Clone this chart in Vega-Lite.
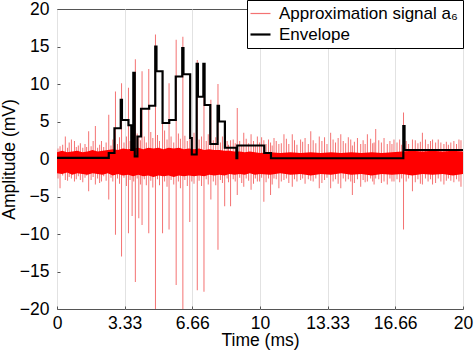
{
  "$schema": "https://vega.github.io/schema/vega-lite/v6.json",
  "width": 406,
  "height": 300,
  "autosize": "none",
  "padding": {"left": 57, "top": 9, "right": 11, "bottom": 42},
  "config": {
    "font": "Liberation Sans",
    "view": {"stroke": "#555", "strokeWidth": 1},
    "axis": {"labelFontSize": 17.5, "titleFontSize": 17.5, "titleFontWeight": "normal", "labelColor": "#000", "titleColor": "#000", "domain": false, "tickColor": "#555", "labelFont": "Liberation Sans", "titleFont": "Liberation Sans", "labelOverlap": false}
  },
  "datasets": {
    "band": [
      {"t":0,"lo":-1.9,"hi":0.9},{"t":0.25,"lo":-2.0,"hi":1.1},{"t":0.5,"lo":-1.8,"hi":0.9},{"t":0.75,"lo":-2.1,"hi":1.0},{"t":1.0,"lo":-1.9,"hi":1.1},{"t":1.25,"lo":-2.0,"hi":0.9},{"t":1.5,"lo":-2.1,"hi":1.0},{"t":1.75,"lo":-1.9,"hi":1.2},{"t":2.0,"lo":-2.0,"hi":1.0},{"t":2.25,"lo":-2.1,"hi":1.1},{"t":2.5,"lo":-1.9,"hi":1.2},{"t":2.75,"lo":-2.2,"hi":1.3},{"t":3.0,"lo":-2.0,"hi":1.2},{"t":3.25,"lo":-2.2,"hi":1.4},{"t":3.5,"lo":-2.1,"hi":1.3},{"t":3.75,"lo":-2.3,"hi":1.4},{"t":4.0,"lo":-2.1,"hi":1.5},{"t":4.25,"lo":-2.3,"hi":1.3},{"t":4.5,"lo":-2.2,"hi":1.5},{"t":4.75,"lo":-2.4,"hi":1.4},{"t":5.0,"lo":-2.2,"hi":1.5},{"t":5.25,"lo":-2.3,"hi":1.3},{"t":5.5,"lo":-2.2,"hi":1.5},{"t":5.75,"lo":-2.4,"hi":1.4},{"t":6.0,"lo":-2.2,"hi":1.5},{"t":6.25,"lo":-2.3,"hi":1.3},{"t":6.5,"lo":-2.2,"hi":1.4},{"t":6.75,"lo":-2.3,"hi":1.3},{"t":7.0,"lo":-2.2,"hi":1.4},{"t":7.25,"lo":-2.3,"hi":1.2},{"t":7.5,"lo":-2.1,"hi":1.3},{"t":7.75,"lo":-2.2,"hi":1.2},{"t":8.0,"lo":-2.1,"hi":1.2},{"t":8.25,"lo":-2.2,"hi":1.1},{"t":8.5,"lo":-2.0,"hi":1.1},{"t":8.75,"lo":-2.1,"hi":1.0},{"t":9.0,"lo":-2.0,"hi":1.0},{"t":9.25,"lo":-2.1,"hi":0.9},{"t":9.5,"lo":-1.9,"hi":1.0},{"t":9.75,"lo":-2.1,"hi":0.9},{"t":10.0,"lo":-2.0,"hi":0.8},{"t":10.5,"lo":-2.1,"hi":0.9},{"t":11.0,"lo":-1.9,"hi":0.8},{"t":11.5,"lo":-2.1,"hi":0.9},{"t":12.0,"lo":-2.0,"hi":0.8},{"t":12.5,"lo":-2.2,"hi":0.9},{"t":13.0,"lo":-2.0,"hi":0.8},{"t":13.5,"lo":-2.1,"hi":0.9},{"t":14.0,"lo":-1.9,"hi":0.8},{"t":14.5,"lo":-2.1,"hi":0.9},{"t":15.0,"lo":-2.0,"hi":0.8},{"t":15.5,"lo":-2.2,"hi":0.9},{"t":16.0,"lo":-2.0,"hi":0.8},{"t":16.5,"lo":-2.1,"hi":0.9},{"t":17.0,"lo":-2.0,"hi":1.0},{"t":17.5,"lo":-2.2,"hi":1.1},{"t":18.0,"lo":-2.0,"hi":1.0},{"t":18.5,"lo":-2.1,"hi":1.1},{"t":19.0,"lo":-2.0,"hi":1.0},{"t":19.5,"lo":-2.2,"hi":1.1},{"t":20.0,"lo":-2.0,"hi":1.0}
    ],
    "spikes": [
      {"t":0.15,"lo":-3.9,"hi":1.7},{"t":0.41,"lo":-2.8,"hi":3.0},{"t":0.71,"lo":-2.6,"hi":2.6},{"t":0.86,"lo":-3.0,"hi":2.4},{"t":1.15,"lo":-2.8,"hi":2.1},{"t":1.56,"lo":-4.3,"hi":3.7},{"t":1.89,"lo":-3.4,"hi":4.4},{"t":2.19,"lo":-3.0,"hi":2.4},{"t":2.55,"lo":-5.4,"hi":5.9},{"t":2.88,"lo":-10.1,"hi":9.0},{"t":3.18,"lo":-13.0,"hi":10.1},{"t":3.52,"lo":-9.9,"hi":9.5},{"t":3.7,"lo":-7.6,"hi":2.5},{"t":3.86,"lo":-16.4,"hi":13.3},{"t":4.03,"lo":-7.9,"hi":3.0},{"t":4.19,"lo":-8.8,"hi":11.7},{"t":4.52,"lo":-9.9,"hi":12.0},{"t":4.85,"lo":-20,"hi":16.6},{"t":5.2,"lo":-9.9,"hi":11.7},{"t":5.52,"lo":-9.4,"hi":10.1},{"t":5.87,"lo":-16.8,"hi":15.9},{"t":6.2,"lo":-20,"hi":16.3},{"t":6.54,"lo":-8.4,"hi":6.6},{"t":6.91,"lo":-17.5,"hi":13.2},{"t":7.24,"lo":-17.7,"hi":12.6},{"t":7.58,"lo":-5.4,"hi":7.9},{"t":7.93,"lo":-12.1,"hi":10.0},{"t":8.26,"lo":-6.3,"hi":4.6},{"t":8.55,"lo":-6.3,"hi":2.5},{"t":8.88,"lo":-4.8,"hi":6.8},{"t":9.2,"lo":-3.7,"hi":3.5},{"t":9.56,"lo":-4.1,"hi":3.3},{"t":9.87,"lo":-3.0,"hi":3.0},{"t":10.19,"lo":-5.7,"hi":2.5},{"t":10.52,"lo":-4.8,"hi":2.2},{"t":10.69,"lo":-2.6,"hi":2.8},{"t":10.93,"lo":-3.9,"hi":2.0},{"t":11.18,"lo":-2.8,"hi":3.3},{"t":11.59,"lo":-3.7,"hi":3.3},{"t":12.0,"lo":-2.8,"hi":2.6},{"t":12.5,"lo":-2.9,"hi":3.7},{"t":12.92,"lo":-3.9,"hi":3.0},{"t":13.48,"lo":-3.9,"hi":3.5},{"t":13.98,"lo":-3.9,"hi":3.3},{"t":14.47,"lo":-3.0,"hi":2.6},{"t":14.55,"lo":-4.8,"hi":1.8},{"t":14.8,"lo":-2.7,"hi":2.8},{"t":14.96,"lo":-3.7,"hi":2.0},{"t":15.29,"lo":-3.0,"hi":3.3},{"t":15.62,"lo":-3.4,"hi":2.2},{"t":15.7,"lo":-2.6,"hi":4.0},{"t":16.11,"lo":-3.0,"hi":2.8},{"t":16.27,"lo":-3.4,"hi":2.0},{"t":16.6,"lo":-3.0,"hi":2.6},{"t":17.07,"lo":-9.4,"hi":6.2},{"t":17.51,"lo":-4.3,"hi":2.6},{"t":18.0,"lo":-3.4,"hi":3.5},{"t":18.5,"lo":-3.4,"hi":2.6},{"t":18.91,"lo":-3.0,"hi":2.2},{"t":19.06,"lo":-3.4,"hi":2.0},{"t":19.4,"lo":-2.9,"hi":2.2},{"t":19.9,"lo":-3.7,"hi":2.5},
      {"t":0.05,"lo":-2.6,"hi":1.4},{"t":0.28,"lo":-2.2,"hi":1.9},{"t":0.52,"lo":-2.9,"hi":1.5},{"t":0.6,"lo":-2.4,"hi":2.2},{"t":0.95,"lo":-2.7,"hi":1.6},{"t":1.05,"lo":-2.3,"hi":1.8},{"t":1.27,"lo":-3.1,"hi":1.5},{"t":1.38,"lo":-2.5,"hi":2.0},{"t":1.46,"lo":-2.2,"hi":1.6},{"t":1.68,"lo":-2.8,"hi":1.7},{"t":1.78,"lo":-2.4,"hi":2.4},{"t":2.0,"lo":-2.6,"hi":1.5},{"t":2.1,"lo":-3.2,"hi":1.9},{"t":2.3,"lo":-2.3,"hi":1.6},{"t":2.42,"lo":-2.9,"hi":2.2},{"t":2.66,"lo":-2.5,"hi":1.8},{"t":2.75,"lo":-3.0,"hi":2.6},{"t":2.98,"lo":-2.6,"hi":2.0},{"t":3.08,"lo":-3.3,"hi":2.9},{"t":3.3,"lo":-2.5,"hi":2.2},{"t":3.42,"lo":-3.6,"hi":3.0},{"t":3.6,"lo":-2.8,"hi":2.4},{"t":3.78,"lo":-3.0,"hi":2.0},{"t":3.95,"lo":-2.6,"hi":3.4},{"t":4.11,"lo":-3.4,"hi":2.5},{"t":4.3,"lo":-2.7,"hi":3.0},{"t":4.4,"lo":-3.5,"hi":2.2},{"t":4.62,"lo":-2.9,"hi":3.6},{"t":4.72,"lo":-3.8,"hi":2.8},{"t":4.95,"lo":-2.7,"hi":3.2},{"t":5.05,"lo":-3.5,"hi":2.4},{"t":5.3,"lo":-3.0,"hi":3.8},{"t":5.42,"lo":-3.7,"hi":2.6},{"t":5.62,"lo":-2.8,"hi":3.0},{"t":5.75,"lo":-3.4,"hi":2.2},{"t":5.98,"lo":-3.0,"hi":3.4},{"t":6.08,"lo":-3.9,"hi":2.7},{"t":6.3,"lo":-2.8,"hi":3.1},{"t":6.42,"lo":-3.6,"hi":2.4},{"t":6.64,"lo":-3.0,"hi":2.8},{"t":6.75,"lo":-3.3,"hi":3.5},{"t":7.0,"lo":-2.9,"hi":2.6},{"t":7.12,"lo":-3.6,"hi":3.0},{"t":7.35,"lo":-2.7,"hi":2.4},{"t":7.45,"lo":-3.4,"hi":3.3},{"t":7.7,"lo":-3.0,"hi":2.5},{"t":7.82,"lo":-3.5,"hi":2.9},{"t":8.05,"lo":-2.8,"hi":2.2},{"t":8.15,"lo":-3.2,"hi":3.0},{"t":8.38,"lo":-2.6,"hi":2.4},{"t":8.45,"lo":-3.1,"hi":1.9},{"t":8.68,"lo":-2.7,"hi":2.6},{"t":8.78,"lo":-3.0,"hi":2.1},{"t":9.0,"lo":-2.5,"hi":2.4},{"t":9.1,"lo":-3.2,"hi":1.9},{"t":9.32,"lo":-2.6,"hi":2.7},{"t":9.44,"lo":-2.9,"hi":2.1},{"t":9.68,"lo":-3.3,"hi":2.4},{"t":9.77,"lo":-2.6,"hi":1.8},{"t":9.98,"lo":-3.0,"hi":2.2},{"t":10.08,"lo":-2.5,"hi":2.9},{"t":10.3,"lo":-3.1,"hi":2.0},{"t":10.42,"lo":-2.6,"hi":2.6},{"t":10.6,"lo":-3.4,"hi":1.8},{"t":10.8,"lo":-2.7,"hi":2.4},{"t":11.05,"lo":-3.0,"hi":2.1},{"t":11.3,"lo":-2.6,"hi":2.7},{"t":11.42,"lo":-3.2,"hi":2.0},{"t":11.7,"lo":-2.7,"hi":2.5},{"t":11.82,"lo":-3.0,"hi":1.9},{"t":12.1,"lo":-2.6,"hi":2.3},{"t":12.22,"lo":-3.3,"hi":2.8},{"t":12.38,"lo":-2.7,"hi":2.0},{"t":12.62,"lo":-3.0,"hi":2.5},{"t":12.75,"lo":-2.6,"hi":2.1},{"t":13.05,"lo":-3.2,"hi":2.4},{"t":13.18,"lo":-2.8,"hi":2.9},{"t":13.3,"lo":-2.5,"hi":2.0},{"t":13.6,"lo":-3.0,"hi":2.6},{"t":13.72,"lo":-2.7,"hi":2.2},{"t":13.85,"lo":-3.3,"hi":2.8},{"t":14.1,"lo":-2.6,"hi":2.4},{"t":14.22,"lo":-3.0,"hi":2.1},{"t":14.35,"lo":-2.7,"hi":2.9},{"t":14.65,"lo":-3.2,"hi":2.3},{"t":15.08,"lo":-2.8,"hi":2.5},{"t":15.18,"lo":-3.1,"hi":2.0},{"t":15.45,"lo":-2.6,"hi":2.7},{"t":15.55,"lo":-3.0,"hi":2.1},{"t":15.85,"lo":-2.7,"hi":2.5},{"t":15.98,"lo":-3.2,"hi":2.2},{"t":16.4,"lo":-2.6,"hi":2.4},{"t":16.5,"lo":-3.0,"hi":2.0},{"t":16.75,"lo":-2.7,"hi":2.2},{"t":16.88,"lo":-3.1,"hi":2.6},{"t":16.98,"lo":-2.6,"hi":1.9},{"t":17.2,"lo":-3.0,"hi":2.4},{"t":17.32,"lo":-2.6,"hi":2.0},{"t":17.65,"lo":-3.1,"hi":2.5},{"t":17.78,"lo":-2.7,"hi":2.1},{"t":17.9,"lo":-3.3,"hi":2.3},{"t":18.15,"lo":-2.6,"hi":2.6},{"t":18.28,"lo":-3.0,"hi":2.0},{"t":18.4,"lo":-2.7,"hi":2.4},{"t":18.65,"lo":-3.2,"hi":2.2},{"t":18.78,"lo":-2.6,"hi":2.6},{"t":19.18,"lo":-2.9,"hi":2.3},{"t":19.28,"lo":-2.6,"hi":1.9},{"t":19.55,"lo":-3.1,"hi":2.4},{"t":19.68,"lo":-2.7,"hi":2.0},{"t":19.8,"lo":-3.0,"hi":2.6}
    ],
    "envelope": [
      {"t":0,"v":0.15},{"t":2.55,"v":0.8},{"t":2.83,"v":4.1},{"t":3.14,"v":7.9},{"t":3.2,"v":5.2},{"t":3.52,"v":4.5},{"t":3.66,"v":1.2},{"t":3.76,"v":11.5},{"t":3.83,"v":0.35},{"t":3.96,"v":3.0},{"t":4.14,"v":6.7},{"t":4.54,"v":7.1},{"t":4.84,"v":15.0},{"t":4.9,"v":11.7},{"t":5.2,"v":4.8},{"t":5.53,"v":5.2},{"t":5.85,"v":11.0},{"t":6.17,"v":14.8},{"t":6.23,"v":11.3},{"t":6.56,"v":2.8},{"t":6.64,"v":0.6},{"t":6.88,"v":12.7},{"t":6.94,"v":8.3},{"t":7.21,"v":12.7},{"t":7.27,"v":7.2},{"t":7.55,"v":2.0},{"t":7.91,"v":7.1},{"t":7.98,"v":5.0},{"t":8.27,"v":1.5},{"t":8.84,"v":0.1},{"t":8.88,"v":1.8},{"t":10.21,"v":0.8},{"t":10.54,"v":0.1},{"t":17.06,"v":4.4},{"t":17.12,"v":1.2},{"t":20,"v":1.2}
    ]
  },
  "layer": [
    {
      "data": {"name": "spikes"},
      "mark": {"type": "rule", "strokeWidth": 1, "color": "#f47272", "clip": true},
      "encoding": {
        "x": {"field": "t", "type": "quantitative", "scale": {"domain": [0, 20], "nice": false},
          "axis": {"title": "Time (ms)", "values": [0, 3.33, 6.66, 10, 13.33, 16.66, 20], "labelExpr": "format(datum.value, '.2~f')", "labelFlush": false, "labelOverlap": false, "grid": true, "gridColor": "#e2e2e2", "tickSize": -3, "labelPadding": 8, "titlePadding": 0}},
        "y": {"field": "lo", "type": "quantitative", "scale": {"domain": [-20, 20], "nice": false},
          "axis": {"title": "Amplitude (mV)", "values": [-20, -15, -10, -5, 0, 5, 10, 15, 20], "format": "d", "labelOverlap": false, "grid": false, "tickSize": -3, "labelPadding": 11, "titlePadding": 1}},
        "y2": {"field": "hi"}
      }
    },
    {
      "data": {"name": "band"},
      "mark": {"type": "area", "color": "#ff0000", "clip": true},
      "encoding": {
        "x": {"field": "t", "type": "quantitative"},
        "y": {"field": "lo", "type": "quantitative", "axis": null},
        "y2": {"field": "hi"}
      }
    },
    {
      "data": {"name": "envelope"},
      "mark": {"type": "line", "interpolate": "step-after", "strokeWidth": 2.2, "clip": true},
      "encoding": {
        "x": {"field": "t", "type": "quantitative"},
        "y": {"field": "v", "type": "quantitative", "axis": null},
        "color": {"datum": "Envelope", "type": "nominal",
          "scale": {"domain": ["Approximation signal a₆", "Envelope"], "range": ["#f47272", "#000000"]},
          "legend": {"orient": "none", "legendX": 190, "legendY": -9, "title": null, "symbolType": "stroke", "symbolSize": 400,
            "labelFontSize": 17, "labelFont": "Liberation Sans", "labelColor": "#000", "labelLimit": 400, "padding": 5, "rowPadding": 3,
            "strokeColor": "#000", "fillColor": "#fff", "labelOffset": 10, "cornerRadius": 0,
            "encode": {"symbols": {"update": {"strokeWidth": {"signal": "datum.value === 'Envelope' ? 2.2 : 1.2"}}}}}}
      }
    }
  ],
  "resolve": {"axis": {"y": "independent"}}
}
